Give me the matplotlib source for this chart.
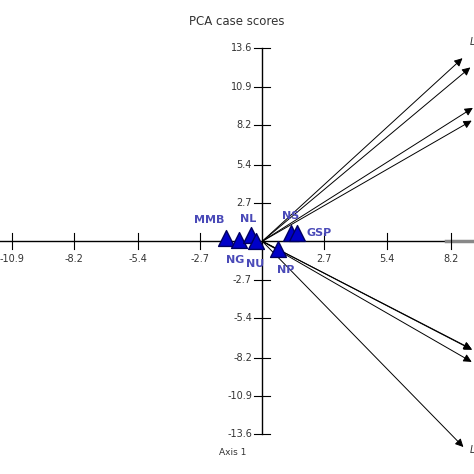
import matplotlib
matplotlib.use("Agg")
import matplotlib.pyplot as plt

# case scores
case_names = ["MMB", "NG", "NL", "NU", "NS", "GSP", "NP"]
case_x = [-1.57, -1.0, -0.5, -0.26, 1.26, 1.52, 0.7]
case_y = [0.2, 0.07, 0.45, 0.0, 0.56, 0.56, -0.56]
label_x = [-2.3, -1.2, -0.6, -0.3, 1.25, 2.45, 1.0]
label_y = [1.5, -1.3, 1.6, -1.6, 1.8, 0.6, -2.0]

# variable vectors (end points)
vec_x = [8.7, 9.04, 9.15, 9.1, 9.3, 9.1, 9.12, 9.1, 8.74]
vec_y = [12.9, 12.25, 9.4, 8.5, -6.7, -7.6, -7.65, -8.5, -14.5]

ticks = [-10.9, -8.2, -5.4, -2.7, 2.7, 5.4, 8.2]
yticks = [-13.6, -10.9, -8.2, -5.4, -2.7, 2.7, 5.4, 8.2, 10.9, 13.6]
blue = "#4a4ab8"

fig = plt.figure(figsize=(4.74, 4.74), dpi=100)
ax = fig.add_axes([0, 0, 1, 1])
ax.set_xlim(-11.4, 9.2)
ax.set_ylim(-16.4, 17.0)
ax.axis("off")

ax.plot([-11.4, 9.2], [0, 0], color="black", lw=1)
ax.plot([8.0, 9.2], [0, 0], color="#888888", lw=2.5)
ax.plot([0, 0], [-13.6, 13.6], color="black", lw=1)
for t in ticks:
    ax.plot([t, t], [-0.55, 0.55], color="black", lw=0.8)
    ax.text(t, -0.9, f"{t:g}", ha="center", va="top", fontsize=7, color="#333333")
for t in yticks:
    ax.plot([-0.35, 0.35], [t, t], color="black", lw=0.8)
    ax.text(-0.45, t, f"{t:g}", ha="right", va="center", fontsize=7, color="#333333")

for vx, vy in zip(vec_x, vec_y):
    ax.annotate("", xy=(vx, vy), xytext=(0, 0),
                arrowprops=dict(arrowstyle="-|>", color="black", lw=0.7,
                                mutation_scale=12, shrinkA=0, shrinkB=0))
ax.text(9.0, 13.8, "L", fontsize=7, style="italic", color="#333333")
ax.text(9.0, -14.9, "L", fontsize=7, style="italic", color="#333333")

ax.scatter(case_x, case_y, marker="^", s=130, color="#0000c8", edgecolor="#000060", zorder=5)
for n, lx, ly in zip(case_names, label_x, label_y):
    ax.text(lx, ly, n, ha="center", va="center", fontsize=8, color=blue, fontweight="bold")

fig.text(0.5, 0.954, "PCA case scores", ha="center", va="center", fontsize=8.5, color="#333333")
fig.text(0.49, 0.046, "Axis 1", ha="center", va="center", fontsize=6.5, color="#333333")

fig.savefig("out.png", dpi=100)
